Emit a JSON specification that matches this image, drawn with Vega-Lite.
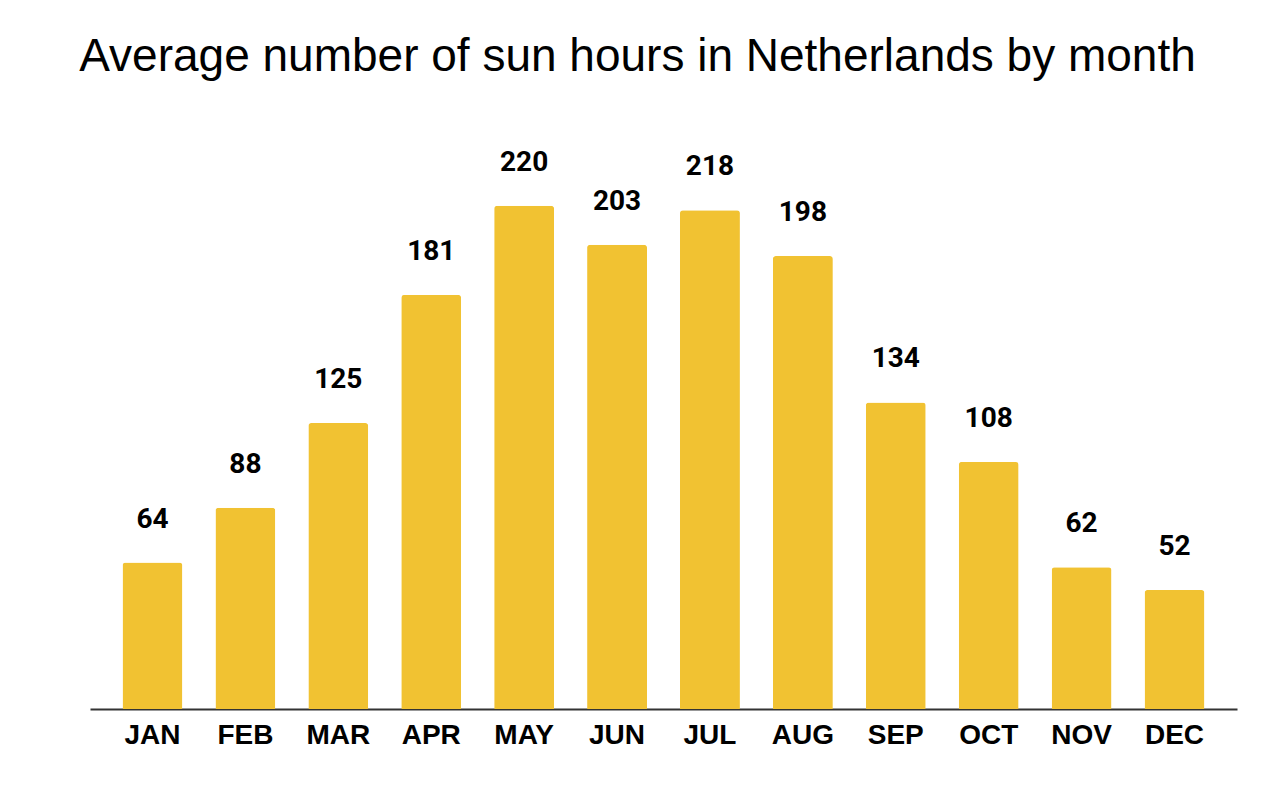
{
  "$schema": "https://vega.github.io/schema/vega-lite/v6.json",
  "width": 1147,
  "height": 549,
  "autosize": "none",
  "padding": {"left": 90, "top": 160, "right": 37, "bottom": 77},
  "background": "white",
  "title": {
    "text": "Average number of sun hours in Netherlands by month",
    "anchor": "middle",
    "dx": -26,
    "offset": 68,
    "font": "Liberation Sans",
    "fontSize": 46,
    "fontWeight": "normal",
    "color": "#000000"
  },
  "data": {
    "values": [
      {"month": "JAN", "hours": 64},
      {"month": "FEB", "hours": 88},
      {"month": "MAR", "hours": 125},
      {"month": "APR", "hours": 181},
      {"month": "MAY", "hours": 220},
      {"month": "JUN", "hours": 203},
      {"month": "JUL", "hours": 218},
      {"month": "AUG", "hours": 198},
      {"month": "SEP", "hours": 134},
      {"month": "OCT", "hours": 108},
      {"month": "NOV", "hours": 62},
      {"month": "DEC", "hours": 52}
    ]
  },
  "encoding": {
    "x": {
      "field": "month",
      "type": "nominal",
      "sort": null,
      "scale": {"paddingInner": 0.355, "paddingOuter": 0.35},
      "axis": {
        "title": null,
        "labelAngle": 0,
        "labelFont": "Liberation Sans",
        "labelFontWeight": "bold",
        "labelFontSize": 28,
        "labelColor": "#000000",
        "labelPadding": 12,
        "ticks": false,
        "domainColor": "#333333",
        "domainWidth": 2
      }
    },
    "y": {
      "field": "hours",
      "type": "quantitative",
      "scale": {"domain": [0, 240]},
      "axis": null
    }
  },
  "layer": [
    {
      "mark": {"type": "bar", "color": "#F1C232", "cornerRadiusTopLeft": 3, "cornerRadiusTopRight": 3}
    },
    {
      "mark": {"type": "text", "font": "Roboto", "fontWeight": "bold", "fontSize": 28, "color": "#000000", "baseline": "middle", "dy": -43},
      "encoding": {"text": {"field": "hours", "type": "quantitative"}}
    }
  ],
  "config": {"view": {"stroke": null}}
}
